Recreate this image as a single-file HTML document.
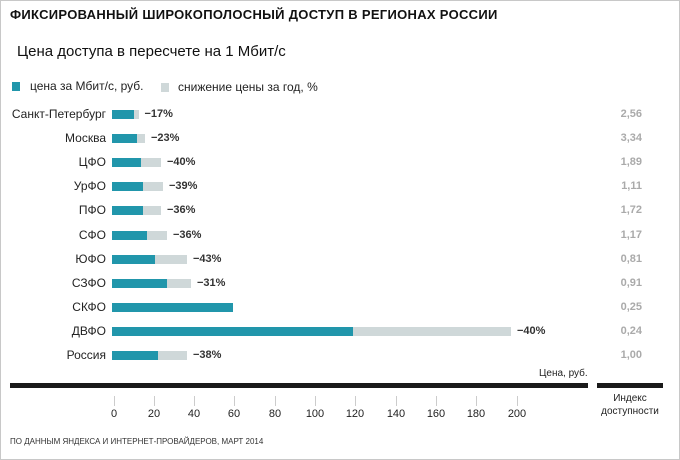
<!DOCTYPE html><html><head><meta charset="utf-8"><style>
body{margin:0;width:680px;height:460px;background:#fff;font-family:"Liberation Sans","DejaVu Sans",sans-serif;position:relative;overflow:hidden}
.fr{position:absolute;left:0;top:0;width:678px;height:458px;border:1px solid #c8c8c8}
.a{position:absolute;white-space:nowrap}
.t{left:10px;top:7px;font-size:13px;font-weight:bold;letter-spacing:0.3px;color:#111}
.s{left:17px;top:43px;font-size:15px;color:#111}
.lab{right:574px;font-size:12px;color:#222;text-align:right}
.bar{position:absolute;height:9px}
.tl{background:#2196ab}.gr{background:#cfd8d9}
.p{font-size:11px;font-weight:bold;color:#333}
.ix{right:38px;font-size:11px;font-weight:bold;color:#aaa}
.tk{position:absolute;top:396px;width:1px;height:10px;background:#ccc}
.n{top:408px;font-size:11px;color:#222;width:30px;text-align:center}
</style></head><body><div class="fr"></div>
<div class="a t">ФИКСИРОВАННЫЙ ШИРОКОПОЛОСНЫЙ ДОСТУП В РЕГИОНАХ РОССИИ</div>
<div class="a s">Цена доступа в пересчете на 1 Мбит/с</div>
<div class="bar tl" style="left:12px;top:82px;width:8px;height:9px"></div>
<div class="a" style="left:30px;top:79px;font-size:12px;color:#222">цена за Мбит/с, руб.</div>
<div class="bar gr" style="left:161px;top:83px;width:8px;height:9px"></div>
<div class="a" style="left:178px;top:80px;font-size:12px;color:#222">снижение цены за год, %</div>
<div id="rows"></div>
<div class="a" style="left:10px;top:383px;width:578px;height:5px;background:#1a1a1a"></div>
<div class="a" style="left:597px;top:383px;width:66px;height:5px;background:#1a1a1a"></div>
<div class="a" style="left:539px;top:368px;font-size:10px;color:#222">Цена, руб.</div>
<div class="a" style="left:597px;top:392px;width:66px;text-align:center;font-size:10px;color:#222;line-height:13px">Индекс<br>доступности</div>
<div class="a" style="left:10px;top:437px;font-size:8px;color:#333">ПО ДАННЫМ ЯНДЕКСА И ИНТЕРНЕТ-ПРОВАЙДЕРОВ, МАРТ 2014</div>
<script>
var R=[["Санкт-Петербург",133.5,138.5,"−17%","2,56",115],["Москва",137,145,"−23%","3,34",139],["ЦФО",141,161,"−40%","1,89",163],["УрФО",143,163,"−39%","1,11",187],["ПФО",143,161,"−36%","1,72",211],["СФО",147,167,"−36%","1,17",236],["ЮФО",155,187,"−43%","0,81",260],["СЗФО",167,191,"−31%","0,91",284],["СКФО",233,233,"","0,25",308],["ДВФО",353,511,"−40%","0,24",332],["Россия",158,187,"−38%","1,00",356]];
var h="";R.forEach(function(r){var y=r[5];
h+='<div class="a lab" style="top:'+(y-8)+'px">'+r[0]+'</div>';
if(r[2]>r[1])h+='<div class="bar gr" style="left:112px;top:'+(y-5)+'px;width:'+(r[2]-112)+'px"></div>';
h+='<div class="bar tl" style="left:112px;top:'+(y-5)+'px;width:'+(r[1]-112)+'px"></div>';
if(r[3])h+='<div class="a p" style="left:'+(r[2]+6)+'px;top:'+(y-7)+'px">'+r[3]+'</div>';
h+='<div class="a ix" style="top:'+(y-7)+'px">'+r[4]+'</div>';});
for(var i=0;i<=10;i++){var x=113.5+i*40.3;h+='<div class="tk" style="left:'+Math.round(x)+'px"></div><div class="a n" style="left:'+(Math.round(x)-15)+'px">'+(i*20)+'</div>';}
document.getElementById("rows").innerHTML=h;
</script></body></html>
